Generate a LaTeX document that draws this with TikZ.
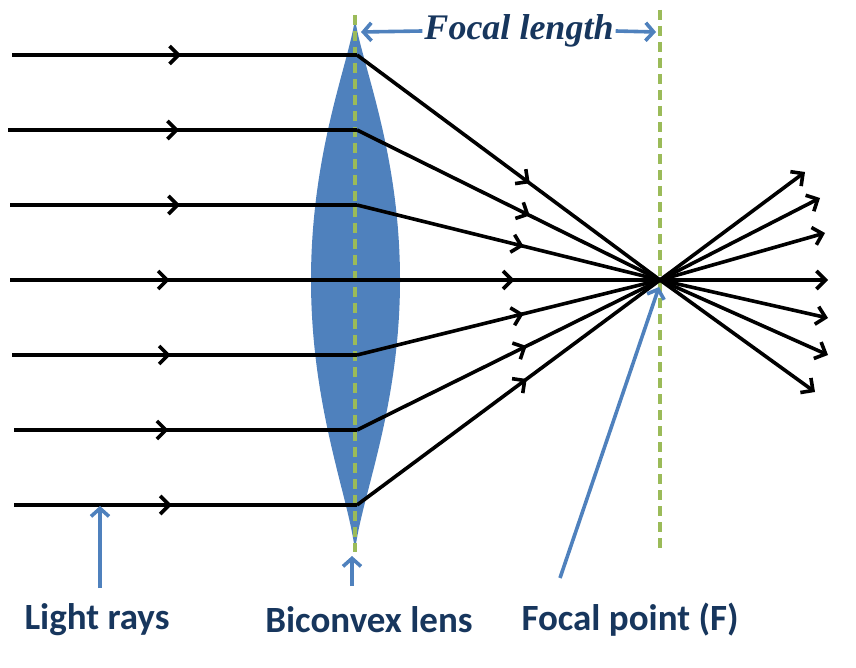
\documentclass[tikz,border=0pt]{standalone}
\usepackage{fontspec}
\setmainfont{Carlito}
\newfontfamily\serifit{Liberation Serif}
\usetikzlibrary{arrows.meta,decorations.markings}
\definecolor{lensblue}{RGB}{79,129,189}
\definecolor{navy}{RGB}{23,54,93}
\definecolor{dashgreen}{RGB}{155,187,89}
\tikzset{
  ray/.style={line width=3.6pt,black},
  midarrow/.style={postaction={decorate},decoration={markings,mark=at position #1 with {\arrow{Straight Barb[length=9pt,width=18pt,line width=3.6pt]}}}},
  outray/.style={ray,-{Straight Barb[length=9pt,width=18pt,line width=3.6pt]}},
  ptr/.style={line width=3.6pt,lensblue,-{Straight Barb[length=8pt,width=18pt,line width=3.6pt]}},
  lbl/.style={font=\bfseries\fontsize{37}{40}\selectfont,text=navy},
  focal/.style={dashgreen,line width=3.6pt,dash pattern=on 10pt off 6pt}
}
\begin{document}
\begin{tikzpicture}[x=1pt,y=-1pt]
\useasboundingbox (0,0) rectangle (856,668);
\fill[lensblue] (355,18) .. controls (360,60) and (400,150) .. (400,280) .. controls (400,410) and (360,500) .. (355,552)
  .. controls (350,500) and (311,410) .. (311,280) .. controls (311,150) and (350,60) .. (355,18) -- cycle;
\draw[focal] (355,15) -- (355,552);
\draw[focal] (660,10) -- (660,548);
\coordinate (F) at (660,280);
\foreach \y/\x [count=\i] in {55/12,130/8,205/10,280/10,355/12,430/14,505/14}{
  \coordinate (s\i) at (\x,\y);
  \coordinate (l\i) at (357,\y);
}
\foreach \i/\p in {1/0.49,2/0.49,3/0.49,4/0.46,5/0.46,6/0.45,7/0.46}{
  \draw[ray,midarrow=\p] (s\i) -- (l\i);
}
\foreach \i/\p in {1/0.57,2/0.57,3/0.55,5/0.55,6/0.56,7/0.56}{
  \draw[ray,midarrow=\p] (l\i) -- (F);
}
\draw[ray,midarrow=0.52] (l4) -- (F);
\foreach \x/\y [count=\i] in {805/172,820/198,825/233,828/280,828/318,828/355,815/392}{
  \coordinate (e\i) at (\x,\y);
  \draw[outray] (F) -- (e\i);
}
\node[lbl] (lr) at (97,620) {Light rays};
\node[lbl] (bl) at (369,620) {Biconvex lens};
\node[lbl] (fp) at (630,620) {Focal point (F)};
\coordinate (a1) at (100,588); \coordinate (b1) at (100,506);
\coordinate (a2) at (352,586); \coordinate (b2) at (352,556);
\coordinate (a3) at (560,578); \coordinate (b3) at (659,287);
\draw[ptr] (a1) -- (b1);
\draw[ptr] (a2) -- (b2);
\draw[ptr] (a3) -- (b3);
\node[font=\serifit\bfseries\itshape\fontsize{36}{38}\selectfont,text=navy,inner sep=2pt] (fl) at (519,31) {Focal length};
\draw[ptr] (fl.west) -- (361,32);
\draw[ptr] (fl.east) -- (656,32);
\end{tikzpicture}
\end{document}
